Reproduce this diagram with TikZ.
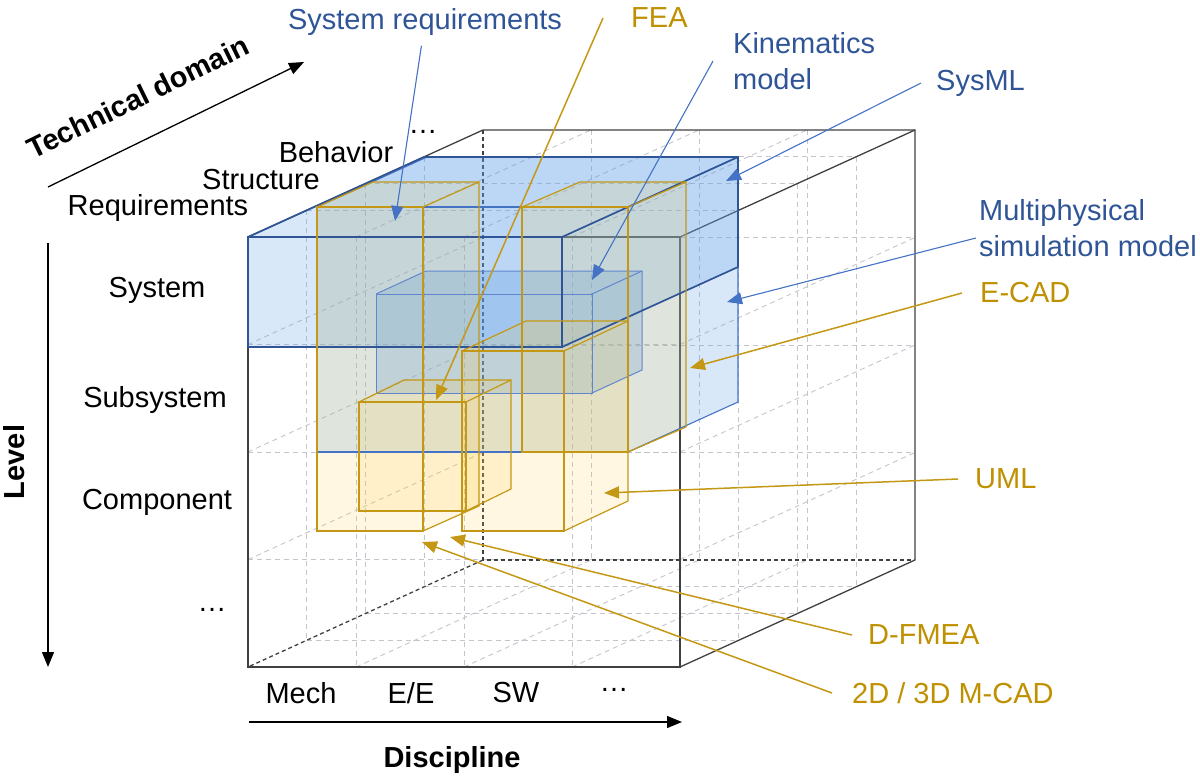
\documentclass[tikz,border=0pt]{standalone}
\usepackage{fontspec}
\setmainfont{Liberation Sans}
\usetikzlibrary{arrows.meta}

\definecolor{txtblue}{RGB}{47,85,151}
\definecolor{edgeblue}{RGB}{68,114,196}
\definecolor{fillblue}{RGB}{95,160,230}
\definecolor{txtgold}{RGB}{191,144,0}
\definecolor{edgegold}{RGB}{196,152,20}
\definecolor{fillgold}{RGB}{255,205,70}
\definecolor{gridgray}{RGB}{196,196,204}

% block: #1 style, (#2,#3) front top left, (#4,#5) front bottom right, (#6,#7) depth
\newcommand{\blockfill}[7]{%
  \fill[#1] (#2,#3) -- ({#2+#6},{#3+#7}) -- ({#4+#6},{#3+#7})
    -- ({#4+#6},{#5+#7}) -- (#4,#5) -- (#2,#5) -- cycle;}
\newcommand{\blockedges}[7]{%
  \draw[#1] (#2,#3) rectangle (#4,#5);
  \draw[#1] (#2,#3) -- ({#2+#6},{#3+#7}) -- ({#4+#6},{#3+#7}) -- ({#4+#6},{#5+#7}) -- (#4,#5);
  \draw[#1] (#4,#3) -- ({#4+#6},{#3+#7});}

\begin{document}
\begin{tikzpicture}[x=1pt,y=-1pt,
    lbl/.style={font=\fontsize{29}{36}\selectfont, inner sep=2pt},
    axislbl/.style={font=\fontsize{29}{36}\selectfont\bfseries, inner sep=2pt},
    bluelbl/.style={lbl, text=txtblue, align=left},
    goldlbl/.style={lbl, text=txtgold, align=left},
    gridline/.style={draw=gridgray, line width=0.9pt, dash pattern=on 5pt off 4pt},
    cubeline/.style={draw=black!75, line width=1.3pt},
    cubehidden/.style={cubeline, dash pattern=on 4pt off 3pt},
    bluefill/.style={fill=fillblue, fill opacity=0.24},
    goldfill/.style={fill=fillgold, fill opacity=0.16},
    axisarrow/.style={line width=1.3pt, -{Triangle[length=15pt,width=12pt]}},
    bluearrow/.style={draw=edgeblue, line width=1.1pt, -{Triangle[length=15pt,width=12pt]}},
    goldarrow/.style={draw=edgegold, line width=1.5pt, -{Triangle[length=15pt,width=12pt]}}]
  \useasboundingbox (0,0) rectangle (1200,779);

  % grid on the faces of the cube
  \foreach \i in {1,2,3}{
      \draw[gridline] ({248+108*\i},237) -- ({248+108*\i},667);
      \draw[gridline] (248,{237+107.5*\i}) -- (680,{237+107.5*\i});
      \draw[gridline] ({483+108*\i},130) -- ({483+108*\i},560);
      \draw[gridline] (483,{130+107.5*\i}) -- (915,{130+107.5*\i});
      \draw[gridline] ({248+108*\i},237) -- ++(235,-107);
      \draw[gridline] ({248+108*\i},667) -- ++(235,-107);
      \draw[gridline] ({248+58.75*\i},{237-26.75*\i}) -- ++(432,0);
      \draw[gridline] ({248+58.75*\i},{667-26.75*\i}) -- ++(432,0);
      \draw[gridline] (248,{237+107.5*\i}) -- ++(235,-107);
      \draw[gridline] (680,{237+107.5*\i}) -- ++(235,-107);
      \draw[gridline] ({248+58.75*\i},{237-26.75*\i}) -- ++(0,430);
      \draw[gridline] ({680+58.75*\i},{237-26.75*\i}) -- ++(0,430);
    }

  % cube
  \draw[cubehidden] (483,130) -- (483,560) -- (915,560);
  \draw[cubehidden] (483,560) -- (248,667);
  \draw[cubeline] (248,237) rectangle (680,667);
  \draw[cubeline] (248,237) -- (483,130) -- (915,130) -- (915,560) -- (680,667);
  \draw[cubeline] (680,237) -- (915,130);

  % models
  \blockfill{bluefill}{248}{237}{562}{347}{176}{-80}
  \blockfill{bluefill}{317}{207}{628}{452}{110}{-50}
  \blockfill{bluefill, fill opacity=0.3}{376}{294}{592}{393}{50}{-23}
  \blockfill{goldfill}{317}{207}{423}{531}{56}{-25}
  \blockfill{goldfill}{522}{207}{628}{452}{58}{-25}
  \blockfill{goldfill}{462}{351}{564}{531}{64}{-30}
  \blockfill{goldfill}{359}{402}{466}{511}{45}{-22}

  \blockedges{draw=edgeblue, line width=1.1pt}{317}{207}{628}{452}{110}{-50}
  \blockedges{draw=edgeblue!85, line width=1pt}{376}{294}{592}{393}{50}{-23}
  \blockedges{draw=txtblue, line width=1.7pt}{248}{237}{562}{347}{176}{-80}
  \blockedges{draw=edgegold, line width=1.2pt}{317}{207}{423}{531}{56}{-25}
  \blockedges{draw=edgegold, line width=1.2pt}{522}{207}{628}{452}{58}{-25}
  \blockedges{draw=edgegold, line width=1.2pt}{462}{351}{564}{531}{64}{-30}
  \blockedges{draw=edgegold, line width=1.2pt}{359}{402}{466}{511}{45}{-22}

  % axes
  \coordinate (tdStart) at (48,187);
  \coordinate (tdEnd) at (304,62);
  \coordinate (lvStart) at (48,243);
  \coordinate (lvEnd) at (48,667);
  \coordinate (dsStart) at (249,722);
  \coordinate (dsEnd) at (682,722);
  \draw[axisarrow] (tdStart) -- (tdEnd);
  \draw[axisarrow] (lvStart) -- (lvEnd);
  \draw[axisarrow] (dsStart) -- (dsEnd);
  \node[axislbl, rotate=26] (techdom) at (138,97) {Technical domain};
  \node[axislbl, rotate=90] (level) at (14,462) {Level};
  \node[axislbl] (discipline) at (452,760) {Discipline};

  % rows, columns, layers
  \node[lbl] (system) at (157,290) {System};
  \node[lbl] (subsystem) at (155,400) {Subsystem};
  \node[lbl] (component) at (157,502) {Component};
  \node[lbl] (rowdots) at (212,610) {…};
  \node[lbl] (mech) at (301,693) {Mech};
  \node[lbl] (ee) at (411,693) {E/E};
  \node[lbl] (sw) at (516,693) {SW};
  \node[lbl] (coldots) at (614,690) {…};
  \node[lbl] (requirements) at (158,208) {Requirements};
  \node[lbl] (structure) at (261,180) {Structure};
  \node[lbl] (behavior) at (336,152) {Behavior};
  \node[lbl] (layerdots) at (423,132) {…};

  % model labels
  \node[bluelbl] (sysreq) at (425,22) {System requirements};
  \node[goldlbl, anchor=west, inner xsep=28pt] (fea) at (603,18) {FEA};
  \node[bluelbl, anchor=west, inner xsep=20pt] (kin) at (713,61) {Kinematics\\model};
  \node[bluelbl, anchor=west, inner xsep=15pt] (sysml) at (921,83) {SysML};
  \node[bluelbl, anchor=west, inner xsep=3pt] (multi) at (976,228) {Multiphysical\\simulation model};
  \node[goldlbl, anchor=west, inner xsep=18pt] (ecad) at (962,293) {E-CAD};
  \node[goldlbl, anchor=west, inner xsep=17pt] (uml) at (958,479) {UML};
  \node[goldlbl, anchor=west, inner xsep=16pt] (dfmea) at (852,635) {D-FMEA};
  \node[goldlbl, anchor=west, inner xsep=20pt] (mcad) at (832,693) {2D / 3D M-CAD};

  \coordinate (tipSysreq) at (395,221);
  \coordinate (tipFea) at (436,400);
  \coordinate (tipKin) at (592,280);
  \coordinate (tipSysml) at (726,181);
  \coordinate (tipMulti) at (727,302);
  \coordinate (tipEcad) at (690,368);
  \coordinate (tipUml) at (604,493);
  \coordinate (tipDfmea) at (450,537);
  \coordinate (tipMcad) at (422,542);

  \draw[bluearrow, shorten <=8pt] (sysreq) -- (tipSysreq);
  \draw[goldarrow] (fea.west) -- (tipFea);
  \draw[bluearrow] (kin.west) -- (tipKin);
  \draw[bluearrow] (sysml.west) -- (tipSysml);
  \draw[bluearrow] ([yshift=-10pt]multi.west) -- (tipMulti);
  \draw[goldarrow] (ecad.west) -- (tipEcad);
  \draw[goldarrow] (uml.west) -- (tipUml);
  \draw[goldarrow] (dfmea.west) -- (tipDfmea);
  \draw[goldarrow] (mcad.west) -- (tipMcad);
\end{tikzpicture}
\end{document}
